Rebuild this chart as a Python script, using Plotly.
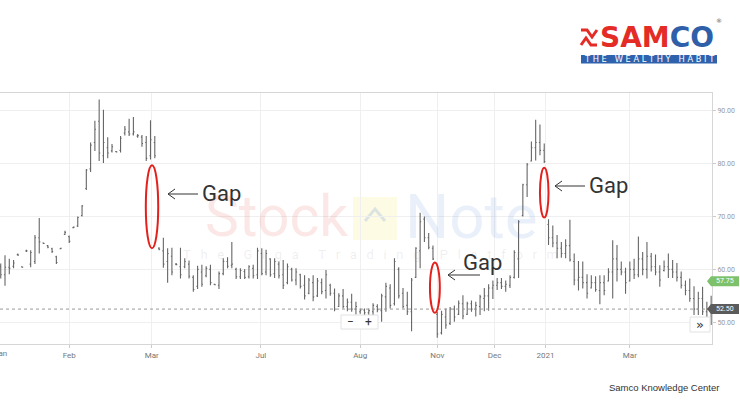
import plotly.graph_objects as go

# ---------------- data ----------------
highs = [61.1,62.7,62.0,61.8,63.0,60.6,63.7,63.6,66.5,69.7,
         65.1,64.6,64.1,62.6,64.1,67.3,66.4,68.1,70.0,72.2,
         79.0,84.0,88.1,92.1,90.2,85.0,83.7,82.4,85.2,87.1,
         88.5,88.8,85.6,85.4,85.2,88.2,85.2,64.2,66.0,64.0,
         64.1,61.2,64.1,62.1,61.7,58.9,60.7,60.9,60.6,60.9,
         57.3,59.6,62.1,62.3,65.2,60.3,60.2,60.1,60.8,60.9,
         64.1,64.0,63.7,62.1,62.1,61.5,61.8,61.1,60.3,60.2,
         59.2,58.9,58.4,58.9,58.4,58.3,59.9,57.3,56.4,55.5,
         56.3,54.5,55.4,53.9,52.6,52.6,52.6,53.6,53.4,55.4,
         57.5,57.2,62.1,60.4,56.5,55.8,58.4,64.2,70.7,70.0,
         66.9,64.5,52.0,52.2,52.6,52.9,53.2,54.1,55.1,53.9,
         54.1,53.9,55.2,56.5,57.2,57.9,58.4,58.4,57.9,58.9,
         63.6,69.3,76.2,80.1,84.2,88.3,87.4,83.8,69.5,68.3,
         66.5,65.2,65.7,69.4,63.0,61.6,61.5,59.1,58.9,58.7,
         58.9,58.9,60.2,65.5,64.6,61.5,60.3,61.5,62.0,66.2,
         63.3,65.2,63.1,62.8,60.8,61.7,63.0,61.8,61.2,59.6,
         57.9,58.3,56.8,55.8,56.7,53.9,55.0]
lows = [58.3,56.9,59.1,60.2,62.6,60.3,63.3,60.4,61.0,63.0,
        64.8,64.0,63.1,61.0,63.8,66.5,65.0,67.8,68.0,70.0,
        75.0,78.4,82.4,80.5,80.1,81.0,82.1,82.1,82.1,85.3,
        85.2,85.3,84.9,83.2,80.5,80.8,81.0,63.6,60.3,57.5,
        58.9,60.8,58.3,60.2,58.3,55.8,56.3,56.7,58.5,57.0,
        57.0,56.3,58.9,60.2,60.2,58.2,58.2,58.2,58.3,58.3,
        58.2,58.9,58.9,58.6,58.4,58.3,56.3,57.2,57.7,57.0,
        56.4,54.3,55.3,54.0,54.8,55.3,54.5,55.0,52.1,52.9,
        52.6,52.1,52.0,51.5,51.6,51.4,51.1,51.4,51.9,50.1,
        52.0,52.6,53.2,54.5,52.6,51.4,48.3,58.4,60.2,65.2,
        63.8,61.8,47.1,47.7,48.8,49.5,50.1,51.4,50.6,51.4,
        52.0,51.1,51.4,52.1,52.2,54.4,56.1,56.3,55.8,56.5,
        58.3,58.4,70.0,73.7,80.4,80.6,81.6,80.1,64.6,64.2,
        62.1,62.2,62.1,61.5,57.0,56.0,56.4,54.5,56.4,55.8,
        53.4,55.1,57.7,54.5,57.7,58.9,55.4,57.7,58.2,58.5,
        58.9,58.3,59.6,58.9,56.7,59.6,58.4,58.4,57.7,56.4,
        55.1,53.9,51.4,51.4,51.4,50.7,49.5]
opens = [60.5,59.0,60.4,60.6,62.8,60.5,63.5,61.0,61.5,66.0,
         65.0,64.5,63.9,62.4,63.9,66.6,66.2,67.9,68.2,70.2,
         75.3,79.0,84.0,88.0,81.5,83.0,82.4,82.3,82.5,85.8,
         86.0,85.6,85.2,85.0,84.0,81.5,84.0,64.0,63.5,61.5,
         62.5,61.0,60.5,60.5,61.0,58.5,56.8,59.5,58.8,60.0,
         57.2,57.0,59.2,61.5,60.8,60.0,58.6,59.6,58.6,60.2,
         59.0,63.0,59.5,62.0,59.2,61.0,59.0,57.5,60.0,58.0,
         59.0,57.0,55.5,57.5,55.0,57.5,56.0,57.0,55.5,53.0,
         55.0,53.0,53.8,52.5,52.0,52.3,51.8,52.0,53.0,52.2,
         54.8,56.5,53.5,60.0,55.5,53.2,52.0,58.5,63.5,69.5,
         66.0,64.0,51.5,48.0,51.0,49.8,52.5,51.5,53.5,51.5,
         53.5,52.5,53.0,54.5,55.0,56.5,57.0,57.5,56.8,57.0,
         58.5,62.0,70.2,76.0,80.5,83.0,84.0,82.5,68.5,66.0,
         65.0,64.0,63.0,64.5,61.5,58.0,58.5,57.5,56.5,57.5,
         56.0,57.5,57.8,59.5,62.0,60.0,59.5,57.8,60.0,59.0,
         62.0,60.0,62.5,60.5,59.5,59.8,60.5,60.0,59.5,58.5,
         57.0,56.0,54.5,52.5,54.5,52.0,52.5]
closes = [59.0,60.4,60.2,61.2,62.7,60.4,63.5,63.2,66.0,65.2,
          64.9,64.2,63.4,61.3,64.0,67.0,65.3,68.0,69.8,72.0,
          78.8,83.5,86.5,82.0,84.0,82.0,83.2,82.2,84.8,86.5,
          85.6,86.0,85.3,83.8,81.0,84.5,81.5,63.8,61.0,63.0,
          59.5,60.9,59.0,61.5,58.7,56.2,60.0,57.2,60.2,57.5,
          57.1,59.2,61.5,60.6,61.0,58.6,59.8,58.5,60.5,58.8,
          63.5,59.2,63.0,59.0,61.5,58.8,57.0,60.5,58.0,59.5,
          56.8,55.0,58.0,54.8,57.8,55.8,59.0,55.5,52.5,55.0,
          53.0,53.8,52.5,53.0,52.3,51.8,52.2,53.2,52.4,55.0,
          56.8,53.2,61.5,55.0,53.0,52.0,58.0,64.0,69.0,66.0,
          64.2,62.0,47.8,51.5,49.5,52.5,51.0,53.6,51.2,53.5,
          52.5,53.2,54.8,55.0,56.5,57.0,57.5,56.8,57.2,58.5,
          63.2,69.0,76.0,79.8,83.0,84.0,82.5,80.4,66.0,65.0,
          64.0,63.0,64.5,61.8,58.0,58.5,57.5,55.5,57.5,56.2,
          57.5,56.0,59.5,62.0,60.0,59.5,57.5,60.0,59.0,62.0,
          60.0,62.5,60.5,59.5,58.0,60.5,60.0,59.5,58.5,57.0,
          56.0,54.5,52.5,54.5,52.0,52.5,52.5]
bar_index = list(range(len(highs)))

month_pos = [16, 35.3, 60.8, 84, 102, 115.4, 127.3, 147]
month_labels = ["Feb", "Mar", "Jul", "Aug", "Nov", "Dec", "2021", "Mar"]
price_ticks = [50, 60, 70, 80, 90]
price_tick_labels = ["50.00", "60.00", "70.00", "80.00", "90.00"]
last_price = 52.50
marker_price = 57.75
# gap regions: (x0, x1, y0, y1) in bar-index / price units
gaps = [(33.9, 36.8, 64.0, 79.7), (100.3, 102.6, 51.8, 61.3), (126.0, 128.0, 69.8, 79.2)]

# ---------------- layout helpers ----------------
W, H = 740, 400
ML, MR, MT, MB = 0, 28, 93, 56
PW, PH = W - ML - MR, H - MT - MB


def px(x):
    return (x - ML) / PW


def py(y):
    return (H - MB - y) / PH


def note(x, y, text, size, color, family="Roboto", **kw):
    d = dict(xref="paper", yref="paper", x=px(x), y=py(y), text=text, showarrow=False,
             xanchor="center", yanchor="middle",
             font=dict(family=family, size=size, color=color))
    d.update(kw)
    return d


fig = go.Figure(go.Ohlc(
    x=bar_index, open=opens, high=highs, low=lows, close=closes,
    increasing=dict(line=dict(color="#666666", width=1.1)),
    decreasing=dict(line=dict(color="#666666", width=1.1)),
    tickwidth=0.25, hoverinfo="skip", showlegend=False))

shapes = []
ann = []

# dashed current-price line
shapes.append(dict(type="line", xref="paper", x0=0, x1=1, yref="y", y0=last_price, y1=last_price,
                   line=dict(color="#9a9a9a", width=1, dash="3px,3px")))

# watermark
shapes.append(dict(type="rect", xref="paper", yref="paper", x0=px(353), x1=px(397), y0=py(240), y1=py(197),
                   fillcolor="rgba(252,244,180,0.35)", line=dict(width=0), layer="below"))
shapes.append(dict(type="path", xref="paper", yref="paper",
                   path=f"M{px(365)},{py(221)} L{px(375)},{py(209)} L{px(385)},{py(221)}",
                   line=dict(color="rgba(120,160,220,0.25)", width=3), layer="below"))
ann.append(note(276, 216, "Stock", 57, "rgba(235,70,70,0.13)"))
ann.append(note(471, 216, "Note", 62, "rgba(80,130,210,0.12)"))
nb = "\u00a0"
tag = (nb * 6).join((nb * 3).join(w) for w in ["The", "Giga", "Trading", "Platform"])
ann.append(note(370, 254, tag, 13, "rgba(120,120,120,0.13)"))

# gap ellipses
for (x0, x1, y0, y1) in gaps:
    shapes.append(dict(type="circle", xref="x", yref="y", x0=x0, x1=x1, y0=y0, y1=y1,
                       line=dict(color="#e3201b", width=2)))

# arrows + "Gap" texts
for (ax0, ax1, ay, tx, ty) in [(168, 198, 194, 221, 193), (448, 480, 275, 482, 262), (555, 585, 186, 608, 185)]:
    shapes.append(dict(type="path", xref="paper", yref="paper",
                       path=f"M{px(ax1)},{py(ay)} L{px(ax0)},{py(ay)} M{px(ax0+7)},{py(ay-5)} L{px(ax0)},{py(ay)} L{px(ax0+7)},{py(ay+5)}",
                       line=dict(color="#333333", width=1)))
    ann.append(note(tx, ty, "Gap", 22, "#333333"))

# zoom buttons
shapes.append(dict(type="rect", xref="paper", yref="paper", x0=px(341), x1=px(378), y0=py(329), y1=py(315),
                   fillcolor="white", line=dict(color="#e2e2e2", width=1)))
ann.append(note(350, 322, "−", 12, "#333"))
ann.append(note(368, 322, "+", 12, "#333"))
shapes.append(dict(type="rect", xref="paper", yref="paper", x0=px(690), x1=px(710), y0=py(332), y1=py(317),
                   fillcolor="white", line=dict(color="#e2e2e2", width=1)))
ann.append(note(700, 324, "»", 13, "#333", family="DejaVu Sans"))

# price tags on right axis
for price, col, txt in [(marker_price, "#7dc26b", f"{marker_price:.2f}"), (last_price, "#5b5b5b", f"{last_price:.2f}")]:
    shapes.append(dict(type="path", xref="paper", yref="y",
                       path=f"M{px(707)},{price} L{px(711)},{price+0.95} L{px(739)},{price+0.95} L{px(739)},{price-0.95} L{px(711)},{price-0.95} Z",
                       fillcolor=col, line=dict(width=0)))
    ann.append(dict(xref="paper", yref="y", x=px(725), y=price, text=txt, showarrow=False,
                    xanchor="center", yanchor="middle",
                    font=dict(family="Roboto", size=7, color="white")))

# Jan (cut) label
ann.append(note(0, 353, "Jan", 8, "#777"))

# SAMCO logo
shapes.append(dict(type="path", xref="paper", yref="paper",
                   path=(f"M{px(581)},{py(30)} L{px(587)},{py(30)} L{px(592)},{py(37)} L{px(597)},{py(30)} "
                         f"M{px(581)},{py(45)} L{px(586)},{py(38)} L{px(591)},{py(45)} L{px(597)},{py(45)}"),
                   line=dict(color="#e42b26", width=3)))
ann.append(note(657, 37.5, "<b><span style='color:#e42b26'>SAM</span><span style='color:#2f5fa9'>CO</span></b>",
                28, "#e42b26", family="DejaVu Sans"))
ann.append(note(719, 20, "®", 6, "#555", family="DejaVu Sans"))
shapes.append(dict(type="rect", xref="paper", yref="paper", x0=px(581), x1=px(717), y0=py(63.5), y1=py(55),
                   fillcolor="#2f62ad", line=dict(width=0)))
slogan = (nb * 3).join(nb.join(w) for w in ["THE", "WEALTHY", "HABIT"])
ann.append(note(649, 59.3, slogan, 8.3, "white", family="DejaVu Sans"))

# footer
ann.append(note(664, 387.5, "Samco Knowledge Center", 9.5, "#333", family="Liberation Sans"))

fig.update_layout(
    width=W, height=H, margin=dict(l=ML, r=MR, t=MT, b=MB),
    paper_bgcolor="white", plot_bgcolor="white",
    shapes=shapes, annotations=ann,
    xaxis=dict(range=[-0.17, 166.2], rangeslider=dict(visible=False), tickmode="array",
               tickvals=month_pos, ticktext=month_labels, showgrid=True, gridcolor="#efefef",
               zeroline=False, showline=True, mirror=True, linecolor="#d6d6d6", linewidth=1,
               ticks="outside", ticklen=3, tickcolor="#cccccc",
               tickfont=dict(family="Roboto", size=8, color="#777")),
    yaxis=dict(range=[45.9, 93.35], side="right", tickmode="array", tickvals=price_ticks,
               ticktext=price_tick_labels, showgrid=True, gridcolor="#efefef", zeroline=False,
               showline=True, mirror=True, linecolor="#d6d6d6", linewidth=1,
               ticks="outside", ticklen=3, tickcolor="#cccccc",
               tickfont=dict(family="Roboto", size=7, color="#999")),
)

fig.write_html("out.html", config={"displayModeBar": False},
               post_script="document.body.style.margin='0px';document.body.style.overflow='hidden';")
